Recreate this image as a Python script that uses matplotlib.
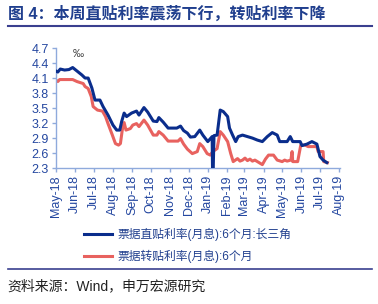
import pandas as pd
import matplotlib
matplotlib.use('Agg')
import matplotlib.pyplot as plt
import matplotlib.dates as mdates

plt.rcParams['font.family'] = ['Liberation Sans', 'Noto Sans CJK SC']
plt.rcParams['axes.unicode_minus'] = False

# 票据直贴利率(月息):6个月:长三角
direct_dates = ['2018-05-01', '2018-05-04', '2018-05-08', '2018-05-15', '2018-05-22', '2018-05-28',
                '2018-06-05', '2018-06-12', '2018-06-17', '2018-06-22', '2018-06-28', '2018-07-03',
                '2018-07-11', '2018-07-16', '2018-07-24', '2018-08-01', '2018-08-07', '2018-08-12',
                '2018-08-15', '2018-08-19', '2018-08-23', '2018-08-31', '2018-09-08', '2018-09-12',
                '2018-09-20', '2018-09-26', '2018-10-05', '2018-10-11', '2018-10-14', '2018-10-21',
                '2018-10-29', '2018-11-12', '2018-11-18', '2018-11-23', '2018-11-29', '2018-12-04',
                '2018-12-11', '2018-12-19', '2018-12-24', '2019-01-01', '2019-01-08', '2019-01-09',
                '2019-01-11', '2019-01-16', '2019-01-21', '2019-01-26', '2019-02-02', '2019-02-05',
                '2019-02-10', '2019-02-15', '2019-02-19', '2019-02-26', '2019-03-06', '2019-03-14',
                '2019-03-22', '2019-03-30', '2019-04-07', '2019-04-15', '2019-04-23', '2019-04-27',
                '2019-05-09', '2019-05-14', '2019-05-18', '2019-05-30', '2019-06-02', '2019-06-10',
                '2019-06-18', '2019-06-26', '2019-07-01', '2019-07-06', '2019-07-12']
direct_rate = [4.24, 4.22, 4.28, 4.26, 4.27, 4.31,
               4.23, 4.16, 4.10, 4.10, 3.90, 3.66,
               3.66, 3.53, 3.36, 3.16, 3.06, 3.06,
               3.23, 3.40, 3.33, 3.40, 3.44, 3.36,
               3.51, 3.42, 3.24, 3.23, 3.31, 3.22,
               3.10, 3.10, 3.14, 3.05, 3.00, 2.92,
               2.93, 3.06, 2.96, 2.83, 2.93, 1.90,
               2.95, 2.96, 3.46, 3.43, 3.33, 3.10,
               2.96, 2.83, 2.93, 2.96, 2.93, 2.90,
               2.86, 2.83, 2.93, 3.01, 2.96, 2.83,
               2.83, 2.93, 2.83, 2.83, 2.75, 2.78,
               2.83, 2.78, 2.53, 2.46, 2.41]

# 票据转贴利率(月息):6个月
rediscount_dates = ['2018-05-01', '2018-05-04', '2018-05-07', '2018-05-28', '2018-06-04', '2018-06-14',
                    '2018-06-17', '2018-06-22', '2018-06-27', '2018-06-30', '2018-07-07', '2018-07-15',
                    '2018-07-20', '2018-07-24', '2018-07-31', '2018-08-05', '2018-08-10', '2018-08-13',
                    '2018-08-16', '2018-08-19', '2018-08-22', '2018-08-29', '2018-09-02', '2018-09-08',
                    '2018-09-12', '2018-09-20', '2018-09-26', '2018-10-05', '2018-10-11', '2018-10-14',
                    '2018-10-21', '2018-10-29', '2018-11-14', '2018-11-18', '2018-11-23', '2018-11-29',
                    '2018-12-07', '2018-12-15', '2018-12-19', '2018-12-24', '2018-12-31', '2019-01-05',
                    '2019-01-09', '2019-01-16', '2019-01-21', '2019-01-26', '2019-02-02', '2019-02-07',
                    '2019-02-11', '2019-02-18', '2019-02-22', '2019-02-26', '2019-03-02', '2019-03-06',
                    '2019-03-10', '2019-03-14', '2019-03-18', '2019-03-22', '2019-03-26', '2019-03-30',
                    '2019-04-04', '2019-04-09', '2019-04-17', '2019-04-23', '2019-05-01', '2019-05-05',
                    '2019-05-09', '2019-05-15', '2019-05-17', '2019-05-18', '2019-05-26', '2019-05-31',
                    '2019-06-07', '2019-06-12', '2019-06-26', '2019-06-28', '2019-07-06', '2019-07-07',
                    '2019-07-13']
rediscount_rate = [4.06, 4.03, 4.07, 4.07, 4.03, 3.99,
                   3.93, 3.89, 3.73, 3.53, 3.46, 3.44,
                   3.33, 3.19, 2.96, 2.79, 2.76, 2.79,
                   3.06, 3.21, 3.06, 3.09, 3.16, 3.19,
                   3.13, 3.26, 3.16, 2.96, 2.96, 3.03,
                   2.96, 2.84, 2.84, 2.89, 2.78, 2.68,
                   2.59, 2.63, 2.79, 2.73, 2.59, 2.56,
                   2.63, 2.69, 3.03, 2.96, 2.83, 2.59,
                   2.43, 2.49, 2.44, 2.46, 2.50, 2.45,
                   2.48, 2.44, 2.46, 2.43, 2.40, 2.37,
                   2.48, 2.56, 2.56, 2.46, 2.43, 2.46,
                   2.44, 2.46, 2.63, 2.43, 2.43, 2.76,
                   2.76, 2.73, 2.73, 2.63, 2.63, 2.43,
                   2.41]

label_direct = '票据直贴利率(月息):6个月:长三角'
label_rediscount = '票据转贴利率(月息):6个月'
yticks = [2.3, 2.6, 2.9, 3.2, 3.5, 3.8, 4.1, 4.4, 4.7]

navy = '#0A2D8C'
salmon = '#E8625F'
tick_blue = '#2447A0'
spine_blue = '#8FAADC'
title_blue = '#203F8E'

fig = plt.figure(figsize=(3.78, 3.04), dpi=100)
ax = fig.add_axes([0.148, 0.447, 0.751, 0.395])

ax.plot(pd.to_datetime(rediscount_dates), rediscount_rate, color=salmon, lw=2.2,
        label=label_rediscount, zorder=2)
ax.plot(pd.to_datetime(direct_dates), direct_rate, color=navy, lw=2.2,
        label=label_direct, zorder=3)

ax.set_ylim(2.3, 4.7)
ax.set_yticks(yticks)
ax.set_xlim(pd.Timestamp('2018-05-01'), pd.Timestamp('2019-08-02'))
ax.xaxis.set_major_locator(mdates.MonthLocator())
ax.xaxis.set_major_formatter(mdates.DateFormatter('%b-%y'))
plt.setp(ax.get_xticklabels(), rotation=90)

for side in ['top', 'right']:
    ax.spines[side].set_visible(False)
for side in ['left', 'bottom']:
    ax.spines[side].set_color(spine_blue)
    ax.spines[side].set_linewidth(1.0)
ax.tick_params(axis='both', colors=spine_blue, labelcolor=tick_blue, labelsize=9,
               length=3, width=1.0, pad=2)

ax.text(0.06, 0.99, '‰', transform=ax.transAxes, fontsize=8, color='#404040',
        va='top', ha='left')

handles, labels = ax.get_legend_handles_labels()
fig.legend(handles[::-1], labels[::-1], loc='upper left', bbox_to_anchor=(0.21, 0.265),
           frameon=False, fontsize=8.5, labelcolor=title_blue, handlelength=2.4,
           handletextpad=0.4, labelspacing=0.7, borderaxespad=0)

fig.text(0.02, 0.955, '图 4：本周直贴利率震荡下行，转贴利率下降', fontsize=11.5,
         fontweight='bold', color=title_blue, va='center', ha='left')
fig.add_artist(plt.Line2D([0.02, 0.985], [0.915, 0.915], color='#3A3F8F', lw=1.5))
fig.add_artist(plt.Line2D([0.02, 0.985], [0.115, 0.115], color='#3A3F8F', lw=1.2))
fig.text(0.02, 0.058, '资料来源：Wind，申万宏源研究', fontsize=10, color='#222222',
         va='center', ha='left')

fig.savefig('out.png', dpi=100)
